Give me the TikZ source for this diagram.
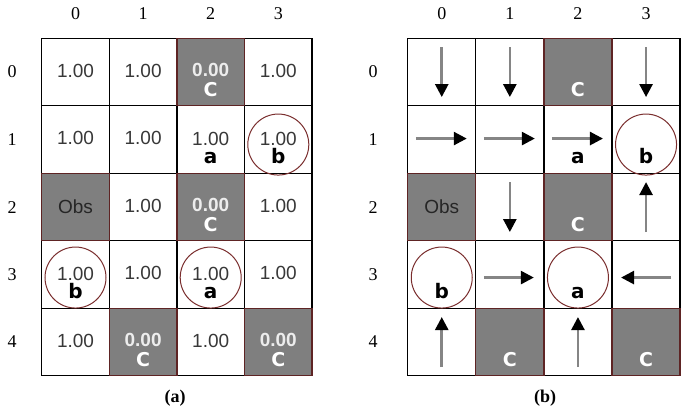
\documentclass[tikz,border=0pt]{standalone}
\usepackage{fontspec}
\setmainfont{Liberation Serif}
\newfontfamily\arialf{Liberation Sans}
\newfontfamily\lblf{DejaVu Sans}
\usetikzlibrary{arrows.meta,calc}
\definecolor{cellgray}{HTML}{7F7F7F}
\definecolor{cborder}{HTML}{5E2424}
\definecolor{circred}{HTML}{7A2E2E}
\definecolor{numcol}{HTML}{383838}
\definecolor{arrgray}{HTML}{858585}
\begin{document}
\begin{tikzpicture}[x=1pt,y=-1pt,
  cellA/.style={draw=black, line width=1.3pt, minimum width=67.6pt, minimum height=67.5pt, inner sep=0pt, fill=white},
  cellB/.style={draw=black, line width=1.3pt, minimum width=68.1pt, minimum height=67.5pt, inner sep=0pt, fill=white},
  grayc/.style={fill=cellgray, draw=cborder},
  num/.style={font=\arialf\fontsize{19}{19}\selectfont, text=numcol, anchor=base, inner sep=0pt},
  wnum/.style={font=\arialf\bfseries\fontsize{19}{19}\selectfont, text=white!93!black, anchor=base, inner sep=0pt},
  obs/.style={font=\arialf\fontsize{19}{19}\selectfont, text=black!85, anchor=base, inner sep=0pt},
  clbl/.style={font=\lblf\bfseries\fontsize{19}{19}\selectfont, text=white, anchor=base, inner sep=0pt},
  lbl/.style={font=\lblf\bfseries\fontsize{20}{20}\selectfont, text=black, anchor=base, inner sep=0pt},
  hdr/.style={font=\fontsize{18}{18}\selectfont, inner sep=0pt},
  captxt/.style={font=\bfseries\fontsize{18}{18}\selectfont, inner sep=0pt},
  ring/.style={draw=circred, line width=1pt, circle, minimum size=61pt, inner sep=0pt},
  arr/.style={draw=arrgray, line width=2.6pt, -{Triangle[black,length=13pt,width=13pt]}}
]
\useasboundingbox (0,0) rectangle (685,416);

% ---------- grid (a) ----------
\foreach \r in {0,...,4}{
  \foreach \c in {0,...,3}{
    \node[cellA] (a-\r-\c) at ({41.7+67.6*(\c+0.5)},{38.3+67.5*(\r+0.5)}) {};
  }
}
\foreach \r/\c in {0/2,2/0,2/2,4/1,4/3}{
  \node[cellA,grayc] at (a-\r-\c) {};
}
% ---------- grid (b) ----------
\foreach \r in {0,...,4}{
  \foreach \c in {0,...,3}{
    \node[cellB] (b-\r-\c) at ({407.7+68.1*(\c+0.5)},{38.3+67.5*(\r+0.5)}) {};
  }
}
\foreach \r/\c in {0/2,2/0,2/2,4/1,4/3}{
  \node[cellB,grayc] at (b-\r-\c) {};
}

% headers
\foreach \c in {0,...,3}{
  \node[hdr] (ha\c) at ({41.7+67.6*(\c+0.5)},14) {\c};
  \node[hdr] (hb\c) at ({407.7+68.1*(\c+0.5)},14) {\c};
}
\foreach \r in {0,...,4}{
  \node[hdr] (ra\r) at (12,{38.3+67.5*(\r+0.5)}) {\r};
  \node[hdr] (rb\r) at (373,{38.3+67.5*(\r+0.5)}) {\r};
}

% circles
\node[ring] (ca1) at ($(a-1-3)+(0,5)$) {};
\node[ring] (ca2) at ($(a-3-0)+(0,3)$) {};
\node[ring] (ca3) at ($(a-3-2)+(0,3)$) {};
\node[ring] (cb1) at ($(b-1-3)+(0,5)$) {};
\node[ring] (cb2) at ($(b-3-0)+(0,3)$) {};
\node[ring] (cb3) at ($(b-3-2)+(0,3)$) {};

% ---------- texts (a) ----------
\foreach \r/\c in {0/0,0/1,0/3,1/0,1/1,2/1,2/3,3/1,3/3,4/0,4/2}{
  \node[num] at ($(a-\r-\c)+(0,5.3)$) {1.00};
}
\foreach \r/\c in {1/2,1/3,3/0,3/2}{
  \node[num] at ($(a-\r-\c)+(0,5.5)$) {1.00};
}
\foreach \r/\c in {0/2,2/2,4/1,4/3}{
  \node[wnum] at ($(a-\r-\c)+(0,4.7)$) {0.00};
  \node[clbl] at ($(a-\r-\c)+(0,24)$) {C};
}
\node[obs] at ($(a-2-0)+(0,6)$) {Obs};
\node[lbl] at ($(a-1-2)+(0,23.5)$) {a};
\node[lbl] at ($(a-1-3)+(0,23.5)$) {b};
\node[lbl] at ($(a-3-0)+(0,23.5)$) {b};
\node[lbl] at ($(a-3-2)+(0,23.5)$) {a};

% ---------- texts (b) ----------
\foreach \r/\c in {0/2,2/2,4/1,4/3}{
  \node[clbl] at ($(b-\r-\c)+(0,24)$) {C};
}
\node[obs] at ($(b-2-0)+(0,6)$) {Obs};
\node[lbl] at ($(b-1-2)+(0,23.5)$) {a};
\node[lbl] at ($(b-1-3)+(0,23.5)$) {b};
\node[lbl] at ($(b-3-0)+(0,23.5)$) {b};
\node[lbl] at ($(b-3-2)+(0,23.5)$) {a};

% arrows
\foreach \r/\c in {0/0,0/1,0/3,2/1}{
  \draw[arr] ($(b-\r-\c)+(0,-25)$) -- ($(b-\r-\c)+(0,25)$);
}
\foreach \r/\c in {2/3,4/0,4/2}{
  \draw[arr] ($(b-\r-\c)+(0,25)$) -- ($(b-\r-\c)+(0,-25)$);
}
\foreach \c in {0,1,2}{
  \draw[arr] ($(b-1-\c)+(-26,-1)$) -- ($(b-1-\c)+(25,-1)$);
}
\draw[arr] ($(b-3-1)+(-26,3)$) -- ($(b-3-1)+(24,3)$);
\draw[arr] ($(b-3-3)+(25,3)$) -- ($(b-3-3)+(-25,3)$);

% captions
\node[captxt] (capa) at (175,398) {(a)};
\node[captxt] (capb) at (545,398) {(b)};
\end{tikzpicture}
\end{document}
